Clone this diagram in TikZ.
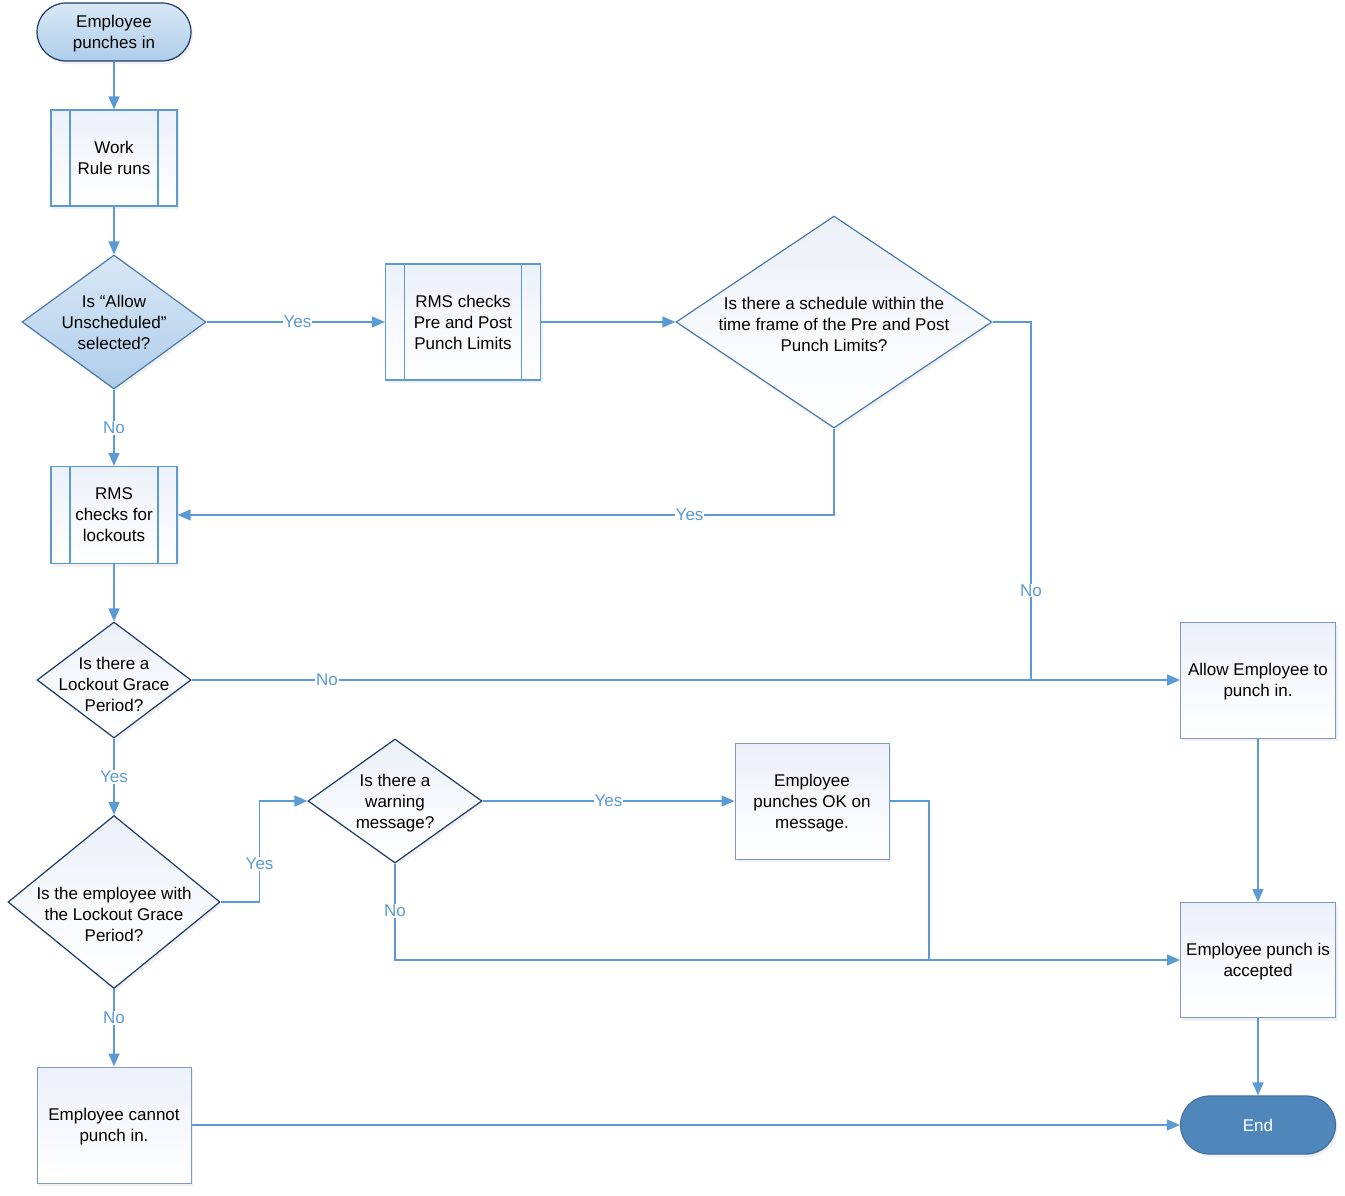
\documentclass[tikz,border=0pt]{standalone}
\usepackage{fontspec}
\setmainfont{Liberation Sans}
\usetikzlibrary{shapes.geometric}
\usetikzlibrary{arrows.meta}
\usetikzlibrary{shadows}

\definecolor{flowline}{HTML}{5B9BD5}
\definecolor{navy}{HTML}{1F3B63}
\definecolor{midblue}{HTML}{4A79AC}
\definecolor{boxedge}{HTML}{7F96BE}
\definecolor{boxtop}{HTML}{ECF1F9}
\definecolor{paletop}{HTML}{D9E8F6}
\definecolor{palebot}{HTML}{AECDEA}
\definecolor{endfill}{HTML}{4F87BB}
\definecolor{endedge}{HTML}{41709E}

\begin{document}
\begin{tikzpicture}[x=1pt, y=-1pt, >={Triangle[length=13pt,width=11pt]},
    font=\fontsize{17}{21}\selectfont]
		\tikzstyle{soft}=[drop shadow={opacity=0.12, shadow xshift=2pt, shadow yshift=-3pt}]
		\tikzstyle{terminal}=[soft, rectangle, rounded corners=29pt, minimum width=154pt, minimum height=58pt, line width=1.2pt, align=center]
		\tikzstyle{subproc}=[soft, draw=flowline, line width=1.2pt, top color=boxtop, bottom color=white, align=center, inner sep=2pt,
		    path picture={\draw[flowline, line width=1.2pt]
		        ([xshift=19pt]path picture bounding box.north west) -- ([xshift=19pt]path picture bounding box.south west)
		        ([xshift=-19pt]path picture bounding box.north east) -- ([xshift=-19pt]path picture bounding box.south east);}]
		\tikzstyle{decision}=[soft, diamond, draw=navy, line width=1.2pt, top color=boxtop, bottom color=white, align=center, inner sep=-10pt]
		\tikzstyle{action}=[soft, rectangle, draw=boxedge, line width=1pt, top color=boxtop, bottom color=white, align=center,
		    minimum width=155pt, minimum height=116pt, inner sep=2pt]
		\tikzstyle{twolines}=[text height=33pt, text depth=0pt]
		\tikzstyle{link}=[draw=flowline, line width=1.6pt]
		\tikzstyle{answer}=[fill=white, text=flowline, inner sep=1pt]

		\useasboundingbox (0,0) rectangle (1345,1195);

    % Start and work rule
		\node[terminal, twolines, draw=navy, top color=paletop, bottom color=palebot](start) at (114,32){Employee\\punches in};
		\node[subproc, minimum width=126pt, minimum height=96pt](rule) at (114,158){Work\\Rule runs};

    % Unscheduled branch
		\node[decision, draw=midblue, top color=paletop, bottom color=palebot, shape aspect=1.37,
		    minimum width=184pt, minimum height=134pt](unsched) at (114,322){Is “Allow\\Unscheduled”\\selected?};
		\node[subproc, minimum width=155pt, minimum height=116pt](limits) at (463,322){RMS checks\\Pre and Post\\Punch Limits};
		\node[decision, draw=midblue, shape aspect=1.49, text height=58pt, text depth=0pt,
		    minimum width=316pt, minimum height=212pt](sched) at (834,322){Is there a schedule within the\\time frame of the Pre and Post\\Punch Limits?};

    % Lockouts
		\node[subproc, minimum width=126pt, minimum height=97pt](lockout) at (114,515){RMS\\checks for\\lockouts};
		\node[decision, shape aspect=1.33, text height=63pt, text depth=0pt, minimum width=154pt, minimum height=116pt](grace) at (114,680){Is there a\\Lockout Grace\\Period?};
		\node[decision, shape aspect=1.23, text height=78pt, text depth=0pt, minimum width=212pt, minimum height=173pt](within) at (114,902){Is the employee with\\the Lockout Grace\\Period?};
		\node[decision, shape aspect=1.4, text height=54pt, text depth=0pt, minimum width=174pt, minimum height=124pt](warn) at (395,801){Is there a\\warning\\message?};
		\node[action, minimum width=154pt, text height=54pt, text depth=0pt](okmsg) at (812,801){Employee\\punches OK on\\message.};

    % Outcomes
		\node[action, twolines](allow) at (1258,680){Allow Employee to\\punch in.};
		\node[action, twolines, minimum height=115pt](accepted) at (1258,960){Employee punch is\\accepted};
		\node[action, twolines, minimum width=154pt](cannot) at (114,1125){Employee cannot\\punch in.};
		\node[terminal, draw=endedge, fill=endfill, text=white, minimum width=155pt](end) at (1258,1125){End};

		\coordinate(nojoin) at (1031,680);
		\coordinate(okjoin) at (929,961);

    % Connections
		\draw[link,->] (start) -- (rule);
		\draw[link,->] (rule) -- (unsched);
		\draw[link,->] (unsched) -- (limits) node[answer, pos=0.51]{Yes};
		\draw[link,->] (limits) -- (sched);
		\draw[link,->] (unsched) -- (lockout) node[answer, pos=0.5]{No};
		\draw[link,->] (sched.south) |- (lockout.east) node[answer, pos=0.61]{Yes};
		\draw[link] (sched.east) -| (nojoin) node[answer, pos=0.875]{No};
		\draw[link,->] (lockout) -- (grace);
		\draw[link,->] (grace) -- (allow) node[answer, pos=0.137]{No};
		\draw[link,->] (grace) -- (within) node[answer, pos=0.5]{Yes};
		\draw[link,->] (within.east) -- ++(39,0) |- (warn.west) node[answer, pos=0.19]{Yes};
		\draw[link,->] (warn) -- (okmsg) node[answer, pos=0.5]{Yes};
		\draw[link,->] (warn.south) |- (accepted.west) node[answer, pos=0.245]{No};
		\draw[link] (okmsg.east) -| (okjoin);
		\draw[link,->] (allow) -- (accepted);
		\draw[link,->] (within) -- (cannot) node[answer, pos=0.37]{No};
		\draw[link,->] (cannot) -- (end);
		\draw[link,->] (accepted) -- (end);

  \end{tikzpicture}
\end{document}
